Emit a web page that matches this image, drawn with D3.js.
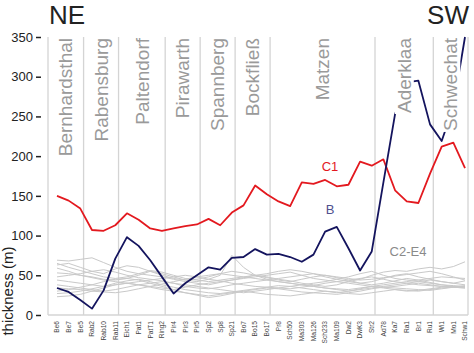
<!DOCTYPE html>
<html><head><meta charset="utf-8">
<script src="https://cdn.jsdelivr.net/npm/d3@7"></script>
<style>body{margin:0;background:#fff}svg{display:block}text{font-family:"Liberation Sans",Arial,sans-serif}</style>
</head><body>
<svg id="c" width="474" height="353"></svg>
<script>
const categories = ["Be6","Be7","Be5","Rab2","Rab10","Rab11","Eich1","Pat1","PatT1","Ring2","Pir4","Pir3","Pir5","Sp2","Sp8","Sp21","Bo7","Bo15","Bo17","Pr8","Sch50","Ma303","Ma126","Sch233","Ma109","Dw2","DwK3","Str2","Ad78","Ka7","Ra1","Br1","Ru1","Wi1","Mo1","Schw1"];
const groupNames = ["Bernhardsthal","Rabensburg","Paltendorf","Pirawarth","Spannberg","Bockfließ","Matzen","Aderklaa","Schwechat"];
const groupSizes = [3,3,4,3,3,3,9,5,3];
const yTicks = [0,50,100,150,200,250,300,350];
const C1 = [150,144,134,107,106,113,128,120,109,106,109,112,114,121,113,129,138,163,152,143,137,167,165,170,162,164,193,188,196,157,143,141,178,212,217,185];
const B  = [34,29,19,8,31,71,98,87,69,48,27,40,50,60,57,72,73,83,76,77,73,67,76,105,111,84,56,80,167,253,293,295,240,219,262,350];
const C2E4 = [
 [69,68,70,72,66,60,55,52,50,48,45,42,40,38,41,44,47,50,48,45,43,40,38,36,38,42,45,50,54,56,55,58,60,58,61,67],
 [63,65,60,55,52,58,62,60,55,50,46,44,45,48,52,55,53,50,47,44,42,45,48,50,47,44,40,42,46,50,52,48,45,42,40,43],
 [59,55,50,48,45,44,46,50,55,52,48,44,42,45,50,75,60,50,45,42,40,38,40,42,45,48,52,55,50,46,44,42,40,38,37,36],
 [53,52,50,47,44,42,40,38,36,34,32,35,38,40,42,44,46,48,50,52,54,50,46,44,42,40,38,36,35,36,38,40,38,36,35,34],
 [48,50,52,55,57,54,50,47,45,43,40,36,34,33,35,38,40,42,44,46,48,50,52,48,45,42,40,38,40,43,46,44,41,38,36,35],
 [44,42,40,38,36,38,40,42,44,46,48,50,48,45,43,40,38,36,35,34,33,35,37,40,42,44,46,48,45,42,40,38,37,36,35,34],
 [38,36,34,32,30,32,35,38,40,42,40,38,36,34,32,30,28,30,32,34,36,38,36,34,32,30,32,34,36,38,40,42,44,42,40,38],
 [34,33,32,30,29,28,30,33,36,39,42,45,48,50,52,50,48,46,44,42,40,38,36,34,33,32,34,36,38,40,42,44,46,48,47,46],
 [27,28,30,33,36,40,43,45,42,38,35,32,30,28,27,29,31,33,35,37,36,34,32,30,28,30,33,36,34,32,30,31,33,35,36,35],
 [23,24,26,30,34,38,40,38,35,32,30,28,26,24,26,28,30,28,26,25,24,26,28,30,29,27,26,28,30,32,31,30,32,34,35,36],
 [30,32,35,38,42,45,46,44,40,36,32,28,25,22,24,27,30,32,34,33,31,29,28,27,26,28,30,33,35,34,33,32,31,33,35,37],
 [65,60,56,52,48,46,48,52,56,54,50,46,44,42,44,46,48,50,52,55,57,55,52,50,48,46,44,45,47,49,51,53,55,52,48,44]
];

const svg = d3.select("#c");
const x = d3.scalePoint().domain(categories).range([57, 465]);
const y = d3.scaleLinear().domain([0,350]).range([315, 37]);
const step = x.step();
const left = 48, right = 468;

// separators
const bounds = [left];
let acc = 0;
groupSizes.forEach((n,i)=>{ acc += n; if(i < groupSizes.length-1) bounds.push(x(categories[acc-1]) + step*0.28); });
bounds.push(right);
svg.append("g").selectAll("line").data(bounds).join("line")
  .attr("x1",d=>d).attr("x2",d=>d).attr("y1",y(350)).attr("y2",y(0))
  .attr("stroke","#d4d4d4").attr("stroke-width",1.3);
svg.append("line").attr("x1",left).attr("x2",right).attr("y1",y(0)).attr("y2",y(0))
  .attr("stroke","#d4d4d4").attr("stroke-width",1.3);

// y axis
const yAxis = d3.axisLeft(y).tickValues(yTicks).tickSize(5).tickPadding(3);
const ga = svg.append("g").attr("transform","translate(41,0)").call(yAxis);
ga.select(".domain").remove();
ga.selectAll(".tick line").attr("stroke","#222").attr("stroke-width",1.5);
ga.selectAll(".tick text").attr("fill","#222").attr("font-size",13).style("font-family","'Liberation Sans',Arial,sans-serif");

svg.append("text").attr("transform","translate(13,291) rotate(-90)")
  .attr("text-anchor","middle").attr("font-size",15).attr("fill","#222").text("thickness (m)");

// x labels
svg.append("g").selectAll("text").data(categories).join("text")
  .attr("transform",d=>`translate(${x(d)},321) rotate(-90)`)
  .attr("text-anchor","end").attr("dy","0.35em").attr("font-size",6.6).attr("fill","#444").text(d=>d);

const line = d3.line().x((d,i)=>x(categories[i])).y(d=>y(d));
svg.append("g").selectAll("path").data(C2E4).join("path")
  .attr("d",line).attr("fill","none").attr("stroke","#c9c9c9").attr("stroke-width",1);
svg.append("path").datum(C1).attr("d",line).attr("fill","none").attr("stroke","#e3191f").attr("stroke-width",1.8).attr("stroke-linejoin","round");
svg.append("path").datum(B).attr("d",line).attr("fill","none").attr("stroke","#14145e").attr("stroke-width",1.8).attr("stroke-linejoin","round");

// group labels with white backgrounds
groupNames.forEach((name,i)=>{
  const cx = (bounds[i]+bounds[i+1])/2;
  const g = svg.append("g").attr("transform",`translate(${cx},38) rotate(-90)`);
  const t = g.append("text").attr("text-anchor","end").attr("dy","0.35em")
    .attr("font-size",19).attr("fill","#9a9a9a").text(name);
  const bb = t.node().getBBox();
  g.insert("rect","text").attr("x",bb.x-1).attr("y",bb.y+1).attr("width",bb.width+2).attr("height",bb.height-2).attr("fill","#fff");
});

// series labels
svg.append("text").attr("x",330).attr("y",171).attr("text-anchor","middle").attr("font-size",13).attr("fill","#e3191f").text("C1");
svg.append("text").attr("x",330).attr("y",214).attr("text-anchor","middle").attr("font-size",13).attr("fill","#50508f").text("B");
svg.append("text").attr("x",408).attr("y",255.5).attr("text-anchor","middle").attr("font-size",13).attr("fill","#8a8a8a").text("C2-E4");

// direction labels
svg.append("text").attr("x",49).attr("y",24).attr("font-size",26).attr("fill","#222").text("NE");
svg.append("text").attr("x",469).attr("y",24).attr("text-anchor","end").attr("font-size",26).attr("fill","#222").text("SW");
</script>
</body></html>
